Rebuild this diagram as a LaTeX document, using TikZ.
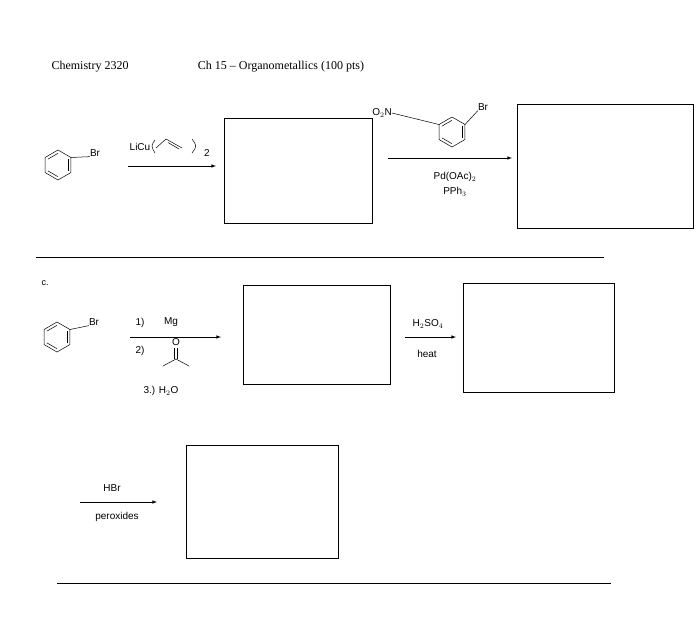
\documentclass[tikz,border=0pt]{standalone}
\usepackage{fontspec}
\usetikzlibrary{calc}
\setmainfont{Liberation Sans}
\newfontfamily\serifft{Liberation Serif}
\begin{document}
\begin{tikzpicture}[x=1pt,y=-1pt,
  lbl/.style={font=\fontsize{10}{11}\selectfont,inner sep=0pt},
  ttl/.style={font=\serifft\fontsize{12}{13}\selectfont,inner sep=0pt},
  box/.style={draw,line width=0.7pt},
  rx/.style={-latex,line width=0.6pt},
  bond/.style={line width=0.5pt}]
\fill[white] (0,0) rectangle (700,641);
\useasboundingbox (0,0) rectangle (700,641);
\newcommand{\benz}[3]{% center x, y, name
  \foreach \a in {30,90,...,330}{\coordinate (#3-\a) at ($(#1,#2)+(\a:15)$);}
  \draw[bond] (#3-30)--(#3-90)--(#3-150)--(#3-210)--(#3-270)--(#3-330)--cycle;
  \draw[bond] ($(#1,#2)!0.78!(#3-90)$)--($(#1,#2)!0.78!(#3-150)$);
  \draw[bond] ($(#1,#2)!0.78!(#3-210)$)--($(#1,#2)!0.78!(#3-270)$);
  \draw[bond] ($(#1,#2)!0.78!(#3-330)$)--($(#1,#2)!0.78!(#3-30)$);}
\node[ttl] (t1) at (90,67) {Chemistry 2320};
\node[ttl] (t2) at (281,67) {Ch 15 – Organometallics (100 pts)};
% first ring
\benz{58}{165}{ra}
\node[lbl] (bra) at (95,153) {Br};
\draw[bond] (ra-330)--(bra.south west);
\node[lbl] (licu) at (140,147) {LiCu};
\draw[bond] (155,140) .. controls (151,146) .. (155,153);
\draw[bond] (156,148)--(166,139)--(182,148);
\draw[bond] (168,142.5)--(179,149);
\draw[bond] (192,139) .. controls (197,146) .. (192,153);
\node[lbl] (two) at (207,153) {2};
\coordinate (a1s) at (128,166); \coordinate (a1e) at (216,166);
\draw[rx] (a1s)--(a1e);
\node[box,minimum width=148pt,minimum height=105pt] (b1) at (298,170.5) {};
% O2N ring
\benz{452}{132}{rb}
\node[lbl] (o2n) at (382,113) {O$_2$N};
\node[lbl] (brb) at (483,107) {Br};
\draw[bond] (rb-210)--(o2n.east);
\draw[bond] (rb-330)--(brb.south west);
\coordinate (a2s) at (388,158); \coordinate (a2e) at (512,158);
\draw[rx] (a2s)--(a2e);
\node[lbl] (pd) at (455,177) {Pd(OAc)$_2$};
\node[lbl] (pph) at (455,192) {PPh$_3$};
\node[box,minimum width=176pt,minimum height=124pt] (b2) at (605,166) {};
\draw[line width=0.6pt] (36,257)--(604,257);
\node[lbl,font=\fontsize{9}{10}\selectfont] (c) at (45,283) {c.};
% second ring
\benz{57}{337}{rc}
\node[lbl] (brc) at (94,322) {Br};
\draw[bond] (rc-330)--(brc.south west);
\node[lbl] (s1) at (140,323) {1)};
\node[lbl] (mg) at (171,322) {Mg};
\coordinate (a3s) at (130,337); \coordinate (a3e) at (221,337);
\draw[rx] (a3s)--(a3e);
\node[lbl] (s2) at (140,351) {2)};
\node[lbl] (ox) at (176,342) {O};
\coordinate (cc) at (176,359);
\draw[bond] (174.5,348)--(174.5,359);
\draw[bond] (177.5,348)--(177.5,359);
\draw[bond] (163,366)--(cc)--(189,366);
\node[lbl] (s3) at (161,391) {3.) H$_2$O};
\node[box,minimum width=147pt,minimum height=99pt] (b3) at (316.5,334.5) {};
\node[lbl] (h2so4) at (428,324) {H$_2$SO$_4$};
\coordinate (a4s) at (405,337); \coordinate (a4e) at (456,337);
\draw[rx] (a4s)--(a4e);
\node[lbl] (heat) at (427,354) {heat};
\node[box,minimum width=151pt,minimum height=109pt] (b4) at (538.5,337.5) {};
\node[lbl] (hbr) at (112,488) {HBr};
\coordinate (a5s) at (80,502); \coordinate (a5e) at (157,502);
\draw[rx] (a5s)--(a5e);
\node[lbl] (perox) at (117,517) {peroxides};
\node[box,minimum width=152pt,minimum height=113pt] (b5) at (262,501.5) {};
\draw[line width=0.6pt] (57,583)--(611,583);
\end{tikzpicture}
\end{document}
